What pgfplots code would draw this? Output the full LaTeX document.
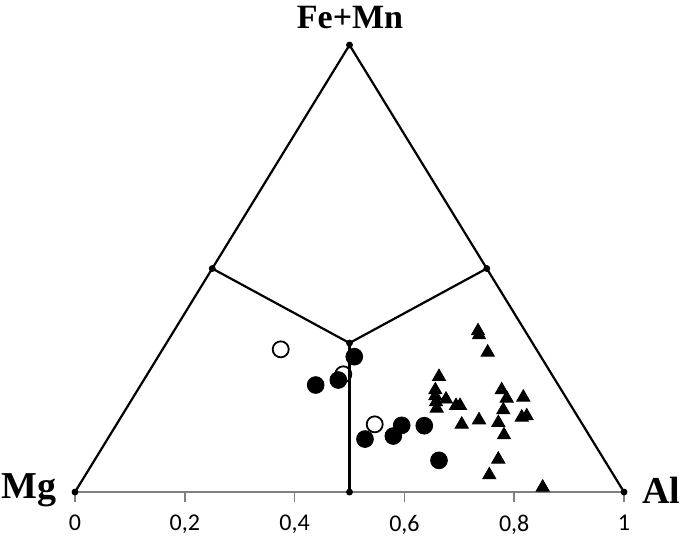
\documentclass[border=0pt]{standalone}
\usepackage{fontspec}
\setmainfont{Liberation Serif}
\newfontfamily\calib{Carlito}
\usepackage{pgfplots}
\pgfplotsset{compat=1.18}
\begin{document}
\begin{tikzpicture}
\begin{axis}[
  scale only axis, width=274.5pt, height=223.5pt,
  xmin=0, xmax=1, ymin=0, ymax=0.8142,
  axis x line*=bottom, hide y axis,
  axis line style={draw=black!50, line width=1pt},
  xtick={0,0.2,0.4,0.6,0.8,1},
  tick align=outside, major tick length=5pt,
  tick style={black!50, line width=0.8pt},
  xticklabel style={font=\calib\fontsize{12}{14}\selectfont, yshift=-3pt},
  /pgf/number format/use comma,
  /pgf/number format/assume math mode=true,
  clip=false,
]
% triangle and field boundaries
\addplot[black, line width=1.1pt] coordinates {(0,0) (0.5,0.8142) (1,0)};
\addplot[black, line width=1.1pt] coordinates {(0.25,0.4071) (0.5,0.2714) (0.75,0.4071)};
\addplot[black, line width=1.1pt] coordinates {(0.5,0.2714) (0.5,0)};
\addplot[only marks, mark=*, mark size=1.5pt, black] coordinates {
  (0,0) (1,0) (0.5,0.8142) (0.25,0.4071) (0.75,0.4071) (0.5,0.2714) (0.5,0)};

% filled circles
\addplot[only marks, mark=*, mark size=4.2pt, black] coordinates {
  (0.5087,0.2465) (0.4384,0.1949) (0.4796,0.2040) (0.5282,0.0965)
  (0.5798,0.1020) (0.5951,0.1215) (0.6362,0.1208) (0.6630,0.0577)};
% open circles
\addplot[only marks, mark=o, mark size=4.0pt, black, line width=0.9pt] coordinates {
  (0.3747,0.2599) (0.4887,0.2144) (0.5459,0.1233)};
% triangles
\addplot[only marks, mark=triangle*, mark size=3.8pt, black] coordinates {
  (0.7341,0.2933) (0.7359,0.2860) (0.7517,0.2545) (0.6630,0.2100)
  (0.6563,0.1858) (0.6563,0.1749) (0.6576,0.1639) (0.6588,0.1525)
  (0.6758,0.1689) (0.6940,0.1572) (0.7013,0.1572) (0.7044,0.1233)
  (0.7359,0.1311) (0.7772,0.1858) (0.7863,0.1707) (0.7801,0.1494)
  (0.7710,0.1262) (0.7814,0.1038) (0.8166,0.1725) (0.8137,0.1361)
  (0.8228,0.1384) (0.7710,0.0596) (0.7546,0.0310) (0.8519,0.0086)};

\node[inner sep=0pt, font=\fontsize{19}{22}\selectfont\bfseries] at (axis cs:-0.083,0.0036) {Mg};
\node[inner sep=0pt, font=\fontsize{19}{22}\selectfont\bfseries] at (axis cs:1.0674,0.0036) {Al};
\node[inner sep=0pt, font=\fontsize{17}{20}\selectfont\bfseries] at (axis cs:0.5009,0.8634) {Fe+Mn};
\path (axis cs:-0.1366,-0.0965) rectangle (axis cs:1.1111,0.8962);
\end{axis}
\end{tikzpicture}
\end{document}
